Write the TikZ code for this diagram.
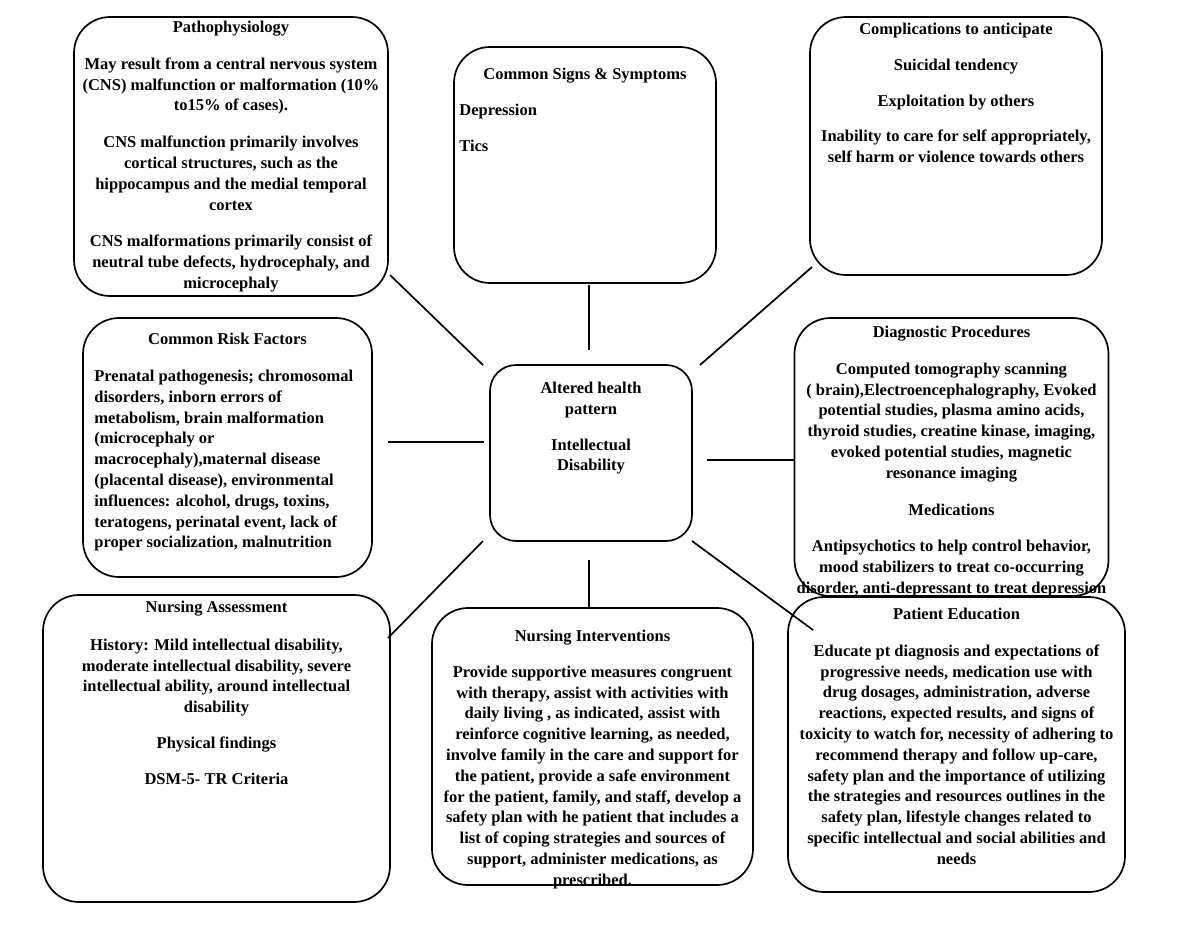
\documentclass[tikz,border=0pt]{standalone}
\usepackage{fontspec}
\setmainfont{Liberation Serif}
\usetikzlibrary{positioning}
\tikzset{
  card/.style={draw, line width=1.7pt, rounded corners=36pt, inner sep=0pt},
  corecard/.style={card, rounded corners=26pt},
  cardtext/.style={inner sep=0pt, align=center, font=\bfseries\fontsize{16.5}{20.8}\selectfont},
  link/.style={line width=1.7pt}
}
\begin{document}
\begin{tikzpicture}[x=1pt,y=-1pt]
  \useasboundingbox (0,0) rectangle (1200,927);
  % boxes
  \node[card, minimum width=314pt, minimum height=279pt] (patho) at (231,156.5) {};
  \node[card, minimum width=262pt, minimum height=236pt] (signs) at (585,165) {};
  \node[card, minimum width=292pt, minimum height=258pt] (compl) at (956,146) {};
  \node[card, minimum width=289pt, minimum height=259pt] (risk) at (227.5,447.5) {};
  \node[corecard, minimum width=202pt, minimum height=176pt] (core) at (591,453) {};
  \node[card, minimum width=314pt, minimum height=278pt] (diag) at (951.5,457) {};
  \node[card, minimum width=347pt, minimum height=307pt] (assess) at (216.5,748.5) {};
  \node[card, minimum width=321pt, minimum height=277pt] (interv) at (592.5,746.5) {};
  \node[card, minimum width=337pt, minimum height=295pt] (educ) at (956.5,744.5) {};
  % texts
  \node[cardtext, below=1.5pt of patho.north] (pathotxt) {\strut Pathophysiology\\[16pt]
    May result from a central nervous system\\
    (CNS) malfunction or malformation (10\%\\
    to15\% of cases).\\[16pt]
    CNS malfunction primarily involves\\
    cortical structures, such as the\\
    hippocampus and the medial temporal\\
    cortex\\[16pt]
    CNS malformations primarily consist of\\
    neutral tube defects, hydrocephaly, and\\
    microcephaly};
  \node[cardtext, below=18.5pt of signs.north] (signstitle) {\strut Common Signs \& Symptoms};
  \node[cardtext, align=left, below right=54.5pt and 6pt of signs.north west] (signstxt)
    {\strut Depression\\[15pt]Tics};
  \node[cardtext, below=3.5pt of compl.north] (compltxt) {\strut Complications to anticipate\\[15pt]
    Suicidal tendency\\[15pt]
    Exploitation by others\\[15pt]
    Inability to care for self appropriately,\\
    self harm or violence towards others};
  \node[cardtext, below=12.5pt of risk.north] (risktitle) {\strut Common Risk Factors};
  \node[cardtext, align=left, below right=49.5pt and 12pt of risk.north west] (risktxt)
    {\strut Prenatal pathogenesis; chromosomal\\
    disorders, inborn errors of\\
    metabolism, brain malformation\\
    (microcephaly or\\
    macrocephaly),maternal disease\\
    (placental disease), environmental\\
    influences: alcohol, drugs, toxins,\\
    teratogens, perinatal event, lack of\\
    proper socialization, malnutrition};
  \node[cardtext, below=14.5pt of core.north] (coretxt) {\strut Altered health\\
    pattern\\[15pt]
    Intellectual\\
    Disability};
  \node[cardtext, below=5.5pt of diag.north] (diagtxt) {\strut Diagnostic Procedures\\[16pt]
    Computed tomography scanning\\
    ( brain),Electroencephalography, Evoked\\
    potential studies, plasma amino acids,\\
    thyroid studies, creatine kinase, imaging,\\
    evoked potential studies, magnetic\\
    resonance imaging\\[16pt]
    Medications\\[16pt]
    Antipsychotics to help control behavior,\\
    mood stabilizers to treat co-occurring\\
    disorder, anti-depressant to treat depression};
  \node[cardtext, below=3.5pt of assess.north] (assesstxt) {\strut Nursing Assessment\\[17pt]
    History: Mild intellectual disability,\\
    moderate intellectual disability, severe\\
    intellectual ability, around intellectual\\
    disability\\[15pt]
    Physical findings\\[15pt]
    DSM-5- TR Criteria};
  \node[cardtext, below=19.5pt of interv.north] (intervtxt) {\strut Nursing Interventions\\[15pt]
    Provide supportive measures congruent\\
    with therapy, assist with activities with\\
    daily living , as indicated, assist with\\
    reinforce cognitive learning, as needed,\\
    involve family in the care and support for\\
    the patient, provide a safe environment\\
    for the patient, family, and staff, develop a\\
    safety plan with he patient that includes a\\
    list of coping strategies and sources of\\
    support, administer medications, as\\
    prescribed.};
  \node[cardtext, below=8.5pt of educ.north] (eductxt) {\strut Patient Education\\[16pt]
    Educate pt diagnosis and expectations  of\\
    progressive needs, medication use with\\
    drug dosages, administration, adverse\\
    reactions, expected results, and signs of\\
    toxicity to watch for, necessity of adhering to\\
    recommend therapy and follow up-care,\\
    safety plan and the importance of utilizing\\
    the strategies and resources outlines in the\\
    safety plan, lifestyle changes related to\\
    specific intellectual and social abilities and\\
    needs};
  % connector ends
  \coordinate (pathoend) at (390,275);
  \coordinate (corenw) at (483,365);
  \coordinate (signsend) at (589,285);
  \coordinate (coren) at (589,350);
  \coordinate (complend) at (812,267);
  \coordinate (corene) at (700,365);
  \coordinate (riskend) at (388,442);
  \coordinate (corew) at (484,442);
  \coordinate (diagend) at (795,460);
  \coordinate (coree) at (707,460);
  \coordinate (assessend) at (388,638);
  \coordinate (coresw) at (483,541);
  \coordinate (intervend) at (589,609);
  \coordinate (cores) at (589,560);
  \coordinate (educend) at (813,630);
  \coordinate (corese) at (692,541);
  \begin{scope}[link]
    \draw (corenw) -- (pathoend);
    \draw (coren) -- (signsend);
    \draw (corene) -- (complend);
    \draw (corew) -- (riskend);
    \draw (coree) -- (diagend);
    \draw (coresw) -- (assessend);
    \draw (cores) -- (intervend);
    \draw (corese) -- (educend);
  \end{scope}
\end{tikzpicture}
\end{document}
